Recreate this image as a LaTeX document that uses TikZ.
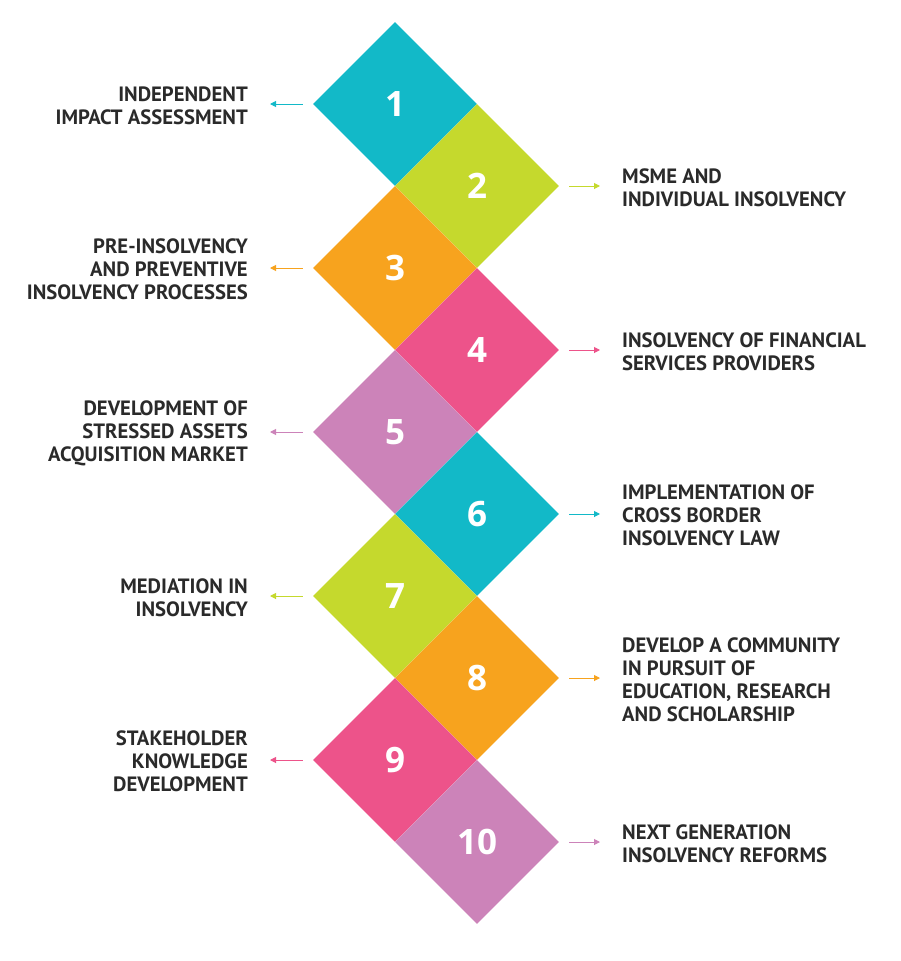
\documentclass[tikz,border=0pt]{standalone}
\usepackage{fontspec}
\setmainfont{PT Sans}
\newfontfamily\numfont{Open Sans}
\usetikzlibrary{shapes.geometric,arrows.meta}
\definecolor{cteal}{RGB}{18,185,200}
\definecolor{clime}{RGB}{197,217,45}
\definecolor{corange}{RGB}{247,163,30}
\definecolor{cpink}{RGB}{237,83,138}
\definecolor{cmauve}{RGB}{204,131,185}
\definecolor{ctext}{RGB}{42,42,42}
\tikzset{
  dia/.style={diamond,aspect=1,minimum width=164pt,minimum height=164pt,inner sep=0pt,
    text=white,font=\numfont\fontsize{35}{35}\selectfont\bfseries},
  lbl/.style={inner sep=0pt,text=ctext,font=\fontsize{20.7}{23}\selectfont\bfseries},
  lft/.style={lbl,anchor=east,align=right},
  rgt/.style={lbl,anchor=west,align=left},
  arr/.style={-{Triangle[length=6pt,width=6pt]},line width=1pt,shorten <=10pt,shorten >=22pt}
}
\begin{document}
\begin{tikzpicture}[x=1pt,y=-1pt]
  \useasboundingbox (0,0) rectangle (900,961);
  % diamonds
  \node[dia,fill=cteal] (d1) at (395,104) {1};
  \node[dia,fill=clime] (d2) at (477,186) {2};
  \node[dia,fill=corange] (d3) at (395,268) {3};
  \node[dia,fill=cpink] (d4) at (477,350) {4};
  \node[dia,fill=cmauve] (d5) at (395,432) {5};
  \node[dia,fill=cteal] (d6) at (477,514) {6};
  \node[dia,fill=clime] (d7) at (395,596) {7};
  \node[dia,fill=corange] (d8) at (477,678) {8};
  \node[dia,fill=cpink] (d9) at (395,760) {9};
  \node[dia,fill=cmauve] (d10) at (477,842) {10};
  % labels
  \node[lft] (t1) at (248,105.5) {INDEPENDENT\\IMPACT ASSESSMENT};
  \node[rgt] (t2) at (622,187.5) {MSME AND\\INDIVIDUAL INSOLVENCY};
  \node[lft] (t3) at (248,269.5) {PRE-INSOLVENCY\\AND PREVENTIVE\\INSOLVENCY PROCESSES};
  \node[rgt] (t4) at (622,351.5) {INSOLVENCY OF FINANCIAL\\SERVICES PROVIDERS};
  \node[lft] (t5) at (248,433.5) {DEVELOPMENT OF\\STRESSED ASSETS\\ACQUISITION MARKET};
  \node[rgt] (t6) at (622,515.5) {IMPLEMENTATION OF\\CROSS BORDER\\INSOLVENCY LAW};
  \node[lft] (t7) at (248,597.5) {MEDIATION IN\\INSOLVENCY};
  \node[rgt] (t8) at (622,679.5) {DEVELOP A COMMUNITY\\IN PURSUIT OF\\EDUCATION, RESEARCH\\AND SCHOLARSHIP};
  \node[lft] (t9) at (248,761.5) {STAKEHOLDER\\KNOWLEDGE\\DEVELOPMENT};
  \node[rgt] (t10) at (622,843.5) {NEXT GENERATION\\INSOLVENCY REFORMS};
  % arrows
  \draw[arr,cteal] (d1.west) -- (t1.east |- d1.west);
  \draw[arr,clime] (d2.east) -- (t2.west |- d2.east);
  \draw[arr,corange] (d3.west) -- (t3.east |- d3.west);
  \draw[arr,cpink] (d4.east) -- (t4.west |- d4.east);
  \draw[arr,cmauve] (d5.west) -- (t5.east |- d5.west);
  \draw[arr,cteal] (d6.east) -- (t6.west |- d6.east);
  \draw[arr,clime] (d7.west) -- (t7.east |- d7.west);
  \draw[arr,corange] (d8.east) -- (t8.west |- d8.east);
  \draw[arr,cpink] (d9.west) -- (t9.east |- d9.west);
  \draw[arr,cmauve] (d10.east) -- (t10.west |- d10.east);
\end{tikzpicture}
\end{document}
